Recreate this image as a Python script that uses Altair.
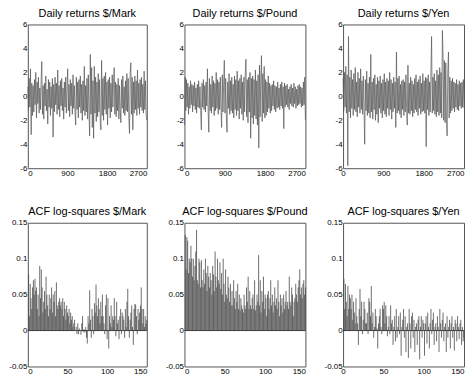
import altair as alt
import pandas as pd
import numpy as np

# ---------------- data ----------------
mark_ret = [
    0.8, -1.2, 1.5, -0.9, 2.3, -3.2, 1.1, -1.6, 0.9, -1.3,
    1.4, -0.7, 2.0, -1.8, 1.2, -0.6, 1.6, -1.4, 0.7, -1.1,
    1.3, 2.9, -1.5, 0.9, -1.9, 1.1, -0.8, 1.7, -1.2, 0.6,
    -2.3, 1.4, -0.9, 1.2, -1.6, 0.8, -1.0, 1.5, -3.4, 1.0,
    -1.3, 1.6, -0.7, 1.1, -1.5, 2.2, -1.1, 0.9, -1.7, 1.3,
    -0.8, 1.5, -1.2, 0.7, -1.9, 1.2, -0.9, 1.6, -1.4, 0.8,
    2.3, -1.2, 1.0, -1.7, 1.4, -0.8, 1.1, -1.5, 1.8, -1.0,
    0.9, -1.3, -2.4, 1.6, -1.1, 1.2, -1.8, 1.4, -0.9, 1.7,
    -1.4, 1.0, -2.0, 1.3, -1.2, 2.5, -1.6, 0.9, -1.3, 1.5,
    -1.9, 1.8, -1.2, -3.3, 3.5, -1.5, 2.4, -2.6, 1.3, -3.5,
    2.5, -1.4, 1.6, -2.1, 1.2, -1.7, 1.9, -1.3, 1.4, -2.2,
    -2.8, 3.0, -1.6, 1.5, -2.0, 1.7, -1.1, 2.0, -1.5, 1.2,
    -2.4, 1.4, -1.0, 1.6, -1.8, 1.1, -1.3, 1.8, -0.9, 1.3,
    2.4, -1.5, 1.2, -1.7, 1.0, -1.2, 1.5, -1.9, 0.9, -1.1,
    -2.2, 1.4, -1.0, 1.7, -1.4, 0.8, -1.6, 1.3, -1.2, 1.9,
    -1.3, 1.5, -1.8, -3.1, 2.0, 2.8, -1.5, 1.6, -2.8, 1.2,
    -1.4, 1.7, -1.1, 1.3, -1.6, 2.2, -1.0, 1.1, -1.5, 1.4,
    -0.9, 1.6, -1.2, 1.0, -1.4, 2.1, -1.1, 1.3, -1.5, -2.0,
]
pound_ret = [
    -2.4, 1.6, -1.2, 1.4, -0.9, 1.1, -1.5, 0.8, -1.0, 1.3,
    -0.7, 1.0, -1.3, 0.9, -0.8, 1.2, -1.1, 0.7, -1.4, 1.0,
    -0.9, 1.3, -1.0, 0.8, -1.2, -2.8, 1.1, -0.9, 1.4, -1.1,
    0.9, -1.3, 1.2, -0.8, 2.3, -1.0, -3.0, 1.5, -1.2, 1.0,
    -1.4, 1.7, -0.9, 1.3, -1.6, 1.1, -1.2, 2.0, -1.0, 1.4,
    -1.5, 1.2, -1.1, 1.6, -0.9, -2.6, 1.8, -1.3, 1.1, 3.0,
    -1.4, 1.5, -1.7, -3.0, 1.2, -1.0, 1.9, -1.5, 1.3, -1.2,
    1.6, -1.4, 1.0, -1.8, 1.7, -1.1, 1.4, -1.6, 2.1, -1.2,
    1.3, -1.9, 1.5, -1.0, 1.8, -1.5, 1.2, -2.0, 1.6, -1.3,
    1.9, 3.1, -1.7, 1.4, -2.2, 1.6, -1.3, 2.0, -3.5, 1.5,
    -1.8, 1.7, -2.3, 1.4, -1.6, 2.2, -1.9, 1.3, -2.4, 1.8,
    -4.3, 2.6, -1.7, 1.5, 3.4, -2.1, 1.9, -1.4, 2.5, -1.8,
    1.4, -1.6, 1.2, -1.3, 1.7, -1.0, 1.1, -1.4, 0.9, -1.2,
    1.0, -0.8, 1.3, -1.1, 0.9, -1.3, 0.8, -1.0, 1.2, -0.9,
    0.7, -1.1, 1.0, -0.8, 1.2, -1.0, 0.8, -2.7, 1.1, -0.9,
    0.9, -0.7, 1.0, -0.9, 0.6, -1.1, 0.8, -0.6, 1.0, -0.8,
    0.7, -0.9, 1.1, -0.6, 0.8, -1.0, 0.6, -0.8, 0.9, -0.7,
    1.0, -0.6, 0.8, -0.9, 0.7, -0.8, 1.2, -0.7, 1.6, -2.0,
]
yen_ret = [
    1.5, -1.2, 2.0, -0.9, 2.5, -1.4, 1.8, -5.8, 5.0, -1.3,
    1.6, -1.8, 2.2, -1.0, 1.4, -1.6, 1.9, -1.1, 2.4, -1.3,
    1.2, -1.7, 2.0, -0.9, 1.5, -1.4, 2.3, -1.1, 1.3, -1.5,
    1.7, -1.0, -4.0, 1.4, -1.2, 2.1, -1.6, 1.1, -1.4, 1.6,
    -1.8, 3.5, -1.3, 1.2, -1.9, 1.5, -1.1, 1.8, -2.0, 1.0,
    -1.5, 1.6, -2.2, 1.3, -1.0, 1.7, -1.4, 1.1, -1.8, 1.4,
    -1.2, 1.9, -1.5, 1.2, -1.7, 1.5, -1.0, 1.3, -1.6, 2.0,
    -1.1, 1.4, -1.9, 1.1, -1.3, 1.6, -1.0, 1.2, -2.6, 3.7,
    -1.4, 1.5, -1.2, 1.7, -1.5, 1.0, -1.8, 1.3, -1.1, 1.4,
    -1.6, 1.2, -1.3, 1.8, -1.0, -2.4, 2.6, -1.4, 1.1, -1.5,
    1.6, -1.2, 1.3, -1.7, 1.0, -1.4, 1.5, -1.1, 1.8, -1.3,
    1.2, -1.6, 1.4, -1.0, 1.7, -1.5, 1.1, -1.3, 1.9, -1.2,
    1.3, -1.4, 1.6, -4.2, 1.5, -1.1, 1.8, -1.6, 1.2, -1.3,
    2.0, 5.0, -1.4, 1.6, -1.2, 1.9, -1.5, 1.3, -1.7, 2.2,
    -1.3, 1.8, -1.6, 2.4, -1.4, 2.0, -1.8, 5.5, 3.3, -2.0,
    3.0, -2.2, 2.8, -1.9, -3.3, 2.1, 3.7, -1.8, 1.6, -1.4,
    1.3, -1.2, 1.5, -1.0, 1.2, -1.3, 1.1, -0.9, 1.4, -1.1,
    1.0, -1.2, 1.3, -0.8, 1.1, -1.0, 1.2, -0.9, 1.4, -1.0,
]

mark_acf = [
    0.078, 0.02, 0.065, 0.045, 0.03, 0.06, 0.07, 0.05, 0.072, 0.055,
    0.06, 0.03, 0.05, 0.02, 0.09, 0.045, 0.085, 0.06, 0.025, 0.04,
    0.055, 0.03, 0.075, 0.05, 0.035, 0.02, 0.05, 0.03, 0.045, 0.06,
    0.025, 0.05, 0.04, 0.055, 0.02, 0.067, 0.035, 0.03, 0.04, 0.045,
    0.035, 0.04, 0.03, 0.045, 0.02, 0.04, 0.03, 0.015, 0.035, 0.025,
    0.02, 0.03, 0.01, 0.025, 0.015, 0.02, 0.005, 0.01, 0.015, 0.0,
    0.005, -0.005, 0.01, -0.005, 0.003, 0.0, -0.006, 0.01, 0.02, -0.002,
    0.002, -0.003, 0.005, -0.01, -0.018, 0.02, 0.01, 0.056, 0.015, -0.01,
    0.03, 0.02, -0.005, 0.038, 0.025, 0.064, 0.035, 0.02, 0.045, 0.03,
    0.01, 0.04, 0.02, 0.05, 0.02, 0.01, -0.005, 0.035, 0.05, -0.012,
    0.045, -0.025, 0.02, 0.01, 0.035, 0.005, 0.02, 0.015, 0.045, 0.02,
    -0.008, 0.04, 0.01, 0.015, -0.012, 0.02, 0.03, -0.005, 0.025, 0.02,
    0.015, -0.01, 0.03, 0.005, 0.04, 0.058, 0.02, -0.01, 0.015, 0.025,
    0.035, 0.005, -0.02, 0.03, 0.037, 0.036, 0.02, -0.005, 0.03, 0.015,
    0.025, 0.035, 0.06, 0.03, 0.01, 0.03, 0.005, 0.02, 0.01, 0.015,
]
pound_acf = [
    0.133, 0.085, 0.13, 0.125, 0.08, 0.1, 0.095, 0.118, 0.1, 0.075,
    0.1, 0.07, 0.09, 0.11, 0.14, 0.07, 0.065, 0.1, 0.095, 0.06,
    0.098, 0.07, 0.06, 0.085, 0.065, 0.1, 0.08, 0.055, 0.09, 0.075,
    0.06, 0.08, 0.07, 0.05, 0.09, 0.078, 0.055, 0.11, 0.075, 0.06,
    0.1, 0.07, 0.065, 0.095, 0.058, 0.08, 0.05, 0.1, 0.065, 0.04,
    0.085, 0.05, 0.045, 0.075, 0.06, 0.04, 0.065, 0.035, 0.055, 0.035,
    0.07, 0.045, 0.03, 0.055, 0.04, 0.065, 0.03, 0.05, 0.028, 0.045,
    0.035, 0.03, 0.025, 0.05, 0.035, 0.03, 0.06, 0.04, 0.075, 0.03,
    0.055, 0.035, 0.03, 0.045, 0.05, 0.03, 0.07, 0.028, 0.035, 0.05,
    0.04, 0.105, 0.035, 0.07, 0.025, 0.055, 0.04, 0.075, 0.03, 0.05,
    0.045, 0.02, 0.05, 0.055, 0.03, 0.045, 0.07, 0.035, 0.05, 0.025,
    0.04, 0.06, 0.035, 0.045, 0.03, 0.07, 0.04, 0.02, 0.05, 0.035,
    0.045, 0.025, 0.05, 0.03, 0.04, 0.055, 0.035, 0.04, 0.03, 0.075,
    0.04, 0.035, 0.06, 0.05, 0.02, 0.04, 0.045, 0.065, 0.05, 0.04,
    0.06, 0.07, 0.085, 0.05, 0.06, 0.045, 0.065, 0.07, 0.05, 0.06,
]
yen_acf = [
    0.072, 0.03, 0.065, 0.04, 0.02, 0.062, 0.03, 0.05, 0.045, 0.03,
    0.05, 0.015, 0.04, 0.025, 0.01, 0.045, 0.02, 0.01, -0.02, 0.03,
    0.058, 0.02, 0.04, -0.005, 0.015, 0.04, 0.03, 0.01, 0.01, 0.025,
    -0.005, 0.045, 0.04, 0.02, 0.062, 0.01, 0.025, -0.01, 0.005, 0.03,
    0.02, 0.003, -0.025, 0.01, 0.02, 0.03, 0.005, -0.005, 0.035, 0.03,
    0.04, 0.01, 0.035, 0.02, -0.008, 0.005, 0.02, -0.005, 0.035, 0.01,
    0.015, -0.02, 0.005, 0.02, -0.015, 0.03, -0.01, 0.005, 0.02, -0.005,
    0.025, -0.035, 0.005, 0.015, 0.03, -0.01, 0.02, -0.03, 0.005, 0.01,
    -0.038, 0.03, 0.01, -0.025, 0.02, 0.025, -0.01, 0.015, -0.03, 0.005,
    0.01, -0.02, 0.015, 0.02, -0.04, 0.005, 0.02, -0.01, 0.015, 0.01,
    -0.035, 0.01, 0.02, -0.018, 0.025, 0.005, -0.025, 0.01, 0.03, -0.005,
    0.015, 0.025, -0.02, 0.005, 0.01, -0.015, 0.02, 0.005, -0.03, 0.03,
    0.01, -0.01, 0.015, 0.025, -0.015, 0.005, 0.01, -0.03, 0.02, -0.01,
    0.005, 0.015, -0.025, 0.01, 0.02, -0.01, 0.005, -0.028, 0.015, 0.01,
    -0.015, 0.02, 0.005, -0.012, 0.01, 0.015, -0.02, 0.005, -0.015, -0.01,
]

ret_titles = ["Daily returns $/Mark", "Daily returns $/Pound", "Daily returns $/Yen"]
acf_titles = ["ACF log-squares $/Mark", "ACF log-squares $/Pound", "ACF log-squares $/Yen"]
ret_xticks = [0, 900, 1800, 2700]
ret_yticks = [-6, -4, -2, 0, 2, 4, 6]
acf_xticks = [0, 50, 100, 150]
acf_yticks = [-0.05, 0, 0.05, 0.1, 0.15]

FONT = "Liberation Sans"
COL_W = [120, 122, 122]


def title(t):
    return alt.TitleParams(t, font=FONT, fontSize=11, fontWeight="normal",
                           color="black", offset=2, frame="group")


def xaxis(values, last, flush_last):
    kw = dict(values=values, labelExpr="'' + datum.value", title=None,
              labelOverlap=False)
    if flush_last:
        kw["labelAlign"] = {"condition": {"test": f"datum.value == {last}", "value": "right"},
                            "value": "center"}
    return alt.Axis(**kw)


def yaxis(values):
    return alt.Axis(values=values, labelExpr="'' + datum.value", title=None,
                    labelOverlap=False)


def ret_panel(vals, t, w, flush_last=False):
    n = len(vals)
    df = pd.DataFrame({"day": np.arange(n) * 2700 / (n - 1), "ret": vals})
    return alt.Chart(df).mark_line(color="#555555", strokeWidth=0.7).encode(
        x=alt.X("day:Q", scale=alt.Scale(domain=[0, 2700], nice=False, zero=False),
                axis=xaxis(ret_xticks, 2700, flush_last)),
        y=alt.Y("ret:Q", scale=alt.Scale(domain=[-6, 6], nice=False),
                axis=yaxis(ret_yticks)),
    ).properties(width=w, height=145, title=title(t))


def acf_panel(vals, t, w, flush_last=False):
    df = pd.DataFrame({"lag": np.arange(1, len(vals) + 1), "acf": vals})
    xs = alt.Scale(domain=[0, 150], nice=False, zero=False)
    ys = alt.Scale(domain=[-0.05, 0.15], nice=False)
    bars = alt.Chart(df).mark_rule(color="#484848", strokeWidth=0.8).encode(
        x=alt.X("lag:Q", scale=xs, axis=xaxis(acf_xticks, 150, flush_last)),
        y=alt.Y("acf:Q", scale=ys, axis=yaxis(acf_yticks)),
        y2=alt.datum(0),
    )
    zero = alt.Chart(pd.DataFrame({"acf": [0.0]})).mark_rule(
        color="#222", strokeWidth=0.8
    ).encode(y=alt.Y("acf:Q", scale=ys, axis=yaxis(acf_yticks)))
    return alt.layer(bars, zero).properties(width=w, height=145, title=title(t))


panels = [
    ret_panel(mark_ret, ret_titles[0], COL_W[0]),
    ret_panel(pound_ret, ret_titles[1], COL_W[1]),
    ret_panel(yen_ret, ret_titles[2], COL_W[2], flush_last=True),
    acf_panel(mark_acf, acf_titles[0], COL_W[0]),
    acf_panel(pound_acf, acf_titles[1], COL_W[1]),
    acf_panel(yen_acf, acf_titles[2], COL_W[2], flush_last=True),
]

chart = alt.concat(*panels, columns=3, spacing={"row": 55, "column": 38},
                   bounds="flush").properties(
    padding={"top": -3, "left": 0, "right": 0, "bottom": 0}, background="white"
).configure_view(
    stroke="#555", strokeWidth=1
).configure_axis(
    labelFont=FONT, labelFontSize=8, labelColor="black", labelPadding=1,
    grid=False, domain=False, ticks=False,
)

chart.save("out.html", embed_options={"renderer": "svg", "actions": False})
